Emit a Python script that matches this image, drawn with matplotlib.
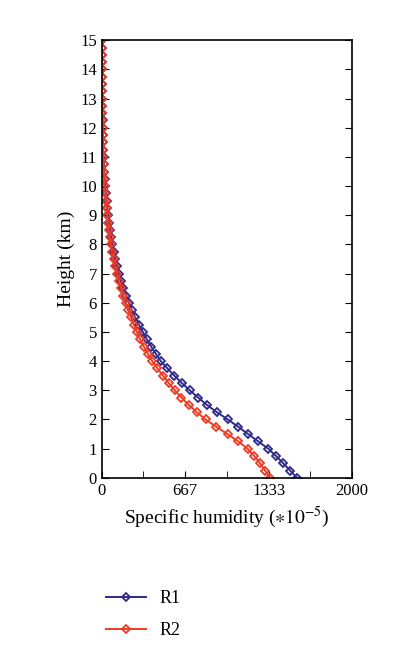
import matplotlib
matplotlib.use("Agg")
import matplotlib.pyplot as plt
import numpy as np

plt.rcParams['font.family'] = ['Liberation Serif', 'DejaVu Serif']
plt.rcParams['mathtext.fontset'] = 'stix'

heights = np.arange(0, 15.01, 0.25)
r1 = [1560,1505,1450,1392,1330, 1250,1170,1090,1008, 920,840,770,704, 640,580,525,472,
      432,395,360,328, 298,268,240,216, 194,172,153,136, 120,106,94,83, 74,66,58,51,
      45,39,33,28, 24,20,17,14, 12,10,8,7, 6,5,4,3.5, 3,2.5,2,1.5, 1.2,0.8,0.4,0]
r2 = [1344,1305,1265,1218,1165, 1090,1005,915,830, 760,695,637,584, 535,490,445,404,
      368,336,306,280, 256,234,212,192, 172,154,136,120, 107,95,84,74, 65,57,50,44,
      38,33,28,24, 20,17,14,12, 10,8.5,7,6, 5,4,3.5,3, 2.5,2,1.5,1, 0.8,0.5,0.3,0]
xticks = [0, 667, 1333, 2000]

fig = plt.figure(figsize=(4.07, 6.60), dpi=100)
ax = fig.add_axes([0.25, 0.276, 0.615, 0.663])
l1, = ax.plot(r1, heights, color='#2e2a8c', marker='D', ms=4, mfc='none', mew=1.3, lw=1.4, label='R1')
l2, = ax.plot(r2, heights, color='#ee3b24', marker='D', ms=4, mfc='none', mew=1.3, lw=1.4, label='R2')
ax.set_xlim(0, 2000)
ax.set_ylim(0, 15)
ax.set_xticks(xticks)
ax.set_xticklabels([str(v) for v in xticks])
ax.set_yticks(range(0, 16))
ax.tick_params(direction='in', top=False, right=True, labelsize=12, length=5)
ax.set_xticks([333.5, 1000, 1666.5], minor=True)
ax.tick_params(which='minor', direction='in', length=5)
for s in ax.spines.values():
    s.set_linewidth(1.2)
ax.set_ylabel('Height (km)', fontsize=14)
ax.set_xlabel(r'Specific humidity ($\ast10^{-5}$)', fontsize=14)
fig.legend(handles=[l1, l2], loc='upper left', bbox_to_anchor=(0.22, 0.13), frameon=False,
           fontsize=13, handlelength=2.2, labelspacing=0.8)
fig.savefig('out.png', dpi=100)
